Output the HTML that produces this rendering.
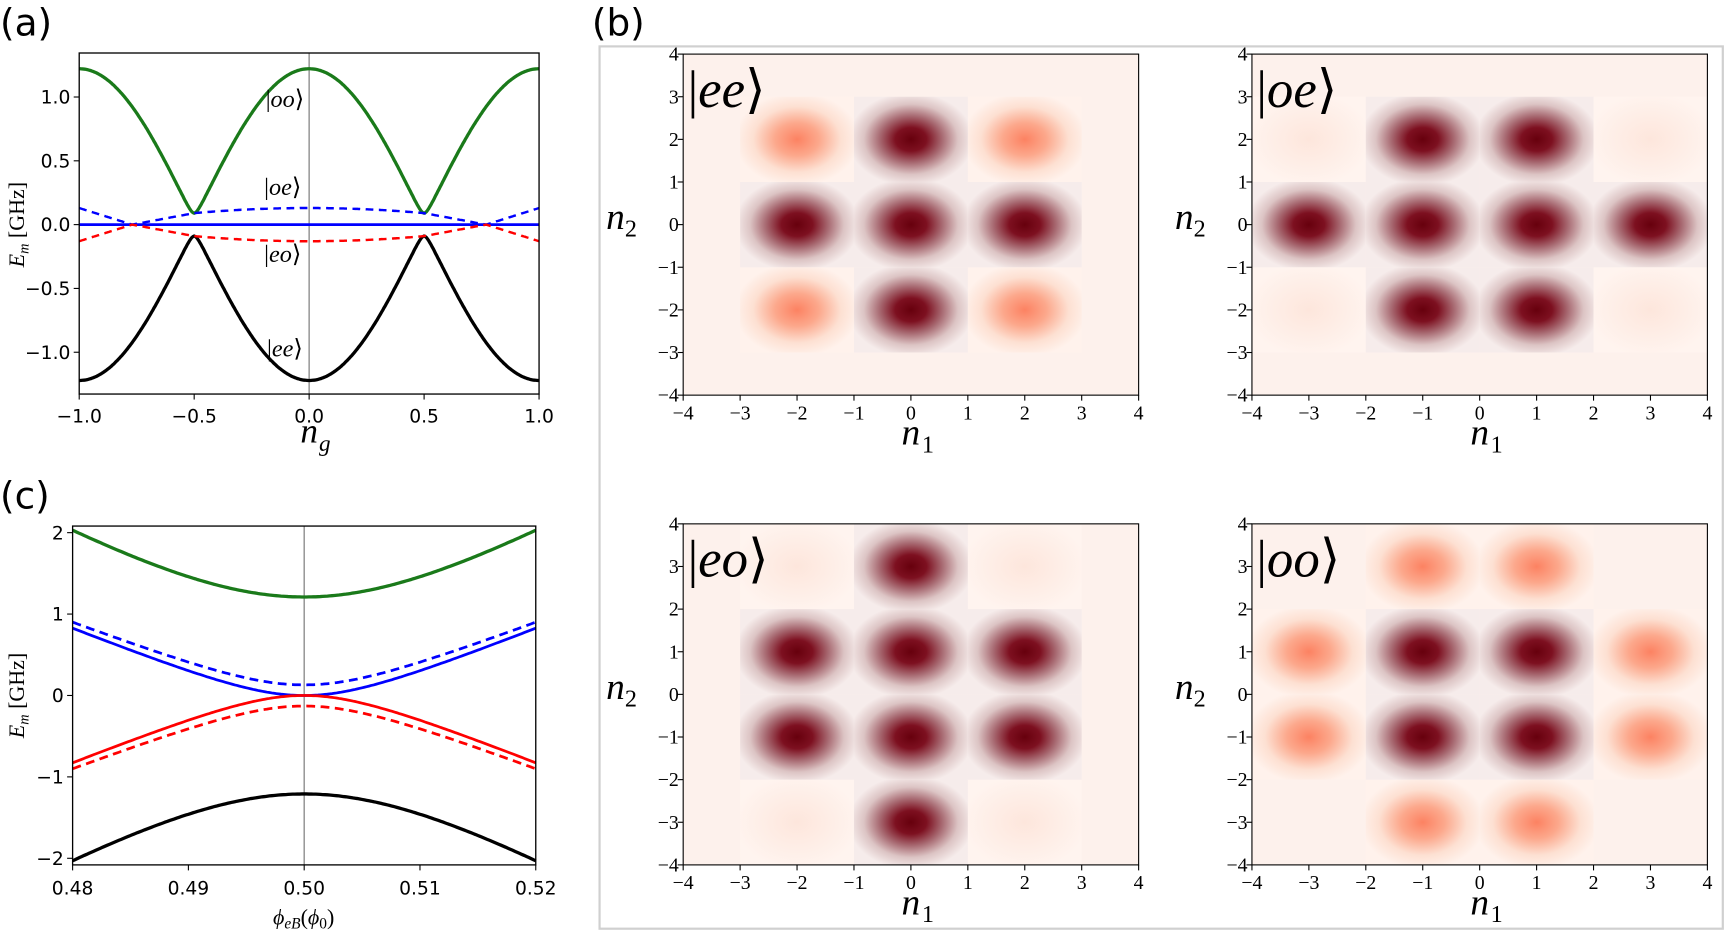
<!DOCTYPE html>
<html><head><meta charset="utf-8"><style>
html,body{margin:0;padding:0;background:#fff;}
svg{display:block}
.sr{font-family:"Liberation Serif","DejaVu Serif",serif;}
.ss{font-family:"DejaVu Sans","Liberation Sans",sans-serif;}
</style></head><body>
<svg id="g" width="1725" height="930" viewBox="0 0 1568 845" xmlns="http://www.w3.org/2000/svg">
<defs>
<radialGradient id="dk" cx="50%" cy="50%" r="55%">
<stop offset="0" stop-color="#67000d"/><stop offset="0.25" stop-color="#7d1020"/>
<stop offset="0.5" stop-color="#a86a72"/><stop offset="0.75" stop-color="#dcc4c4"/>
<stop offset="1" stop-color="#f6eceb"/></radialGradient>
<radialGradient id="or" cx="50%" cy="50%" r="55%">
<stop offset="0" stop-color="#fc8262"/><stop offset="0.35" stop-color="#fca88c"/>
<stop offset="0.7" stop-color="#fde0d2"/><stop offset="1" stop-color="#fff2ec"/></radialGradient>
<radialGradient id="fa" cx="50%" cy="50%" r="55%">
<stop offset="0" stop-color="#fde6dc"/><stop offset="1" stop-color="#fff4ef"/></radialGradient>
</defs>
</svg>
<script>
const S=document.getElementById('g');const NS='http://www.w3.org/2000/svg';
function el(t,a,txt){const e=document.createElementNS(NS,t);for(const k in a)e.setAttribute(k,a[k]);if(txt!==undefined)e.textContent=txt;S.appendChild(e);return e;}
function path(pts,c,w,dash){el('path',{d:'M'+pts.map(p=>p[0].toFixed(1)+','+p[1].toFixed(1)).join('L'),fill:'none',stroke:c,'stroke-width':w,'stroke-dasharray':dash||'none'});}
function txt(x,y,s,sz,cls,anc,extra){const a=Object.assign({x:x,y:y,'font-size':sz,'class':cls=='s'?'ss':'sr','text-anchor':anc||'middle'},extra||{});return el('text',a,s);}
function rich(x,y,sz,html,anc,tr){const a={x:x,y:y,'font-size':sz,'class':'sr','text-anchor':anc||'middle'};if(tr)a.transform=tr;const e=el('text',a);e.innerHTML=html;return e;}
txt(0,32,'(a)',34,'s','start');txt(538,32,'(b)',34,'s','start');txt(0,462,'(c)',34,'s','start');
const EM='<tspan font-style="italic">E</tspan><tspan font-style="italic" font-size="13" dy="4">m</tspan><tspan dy="-4"> [GHz]</tspan>';
// panel (a)
{const X=n=>72+(n+1)*209,Y=E=>204-E*116;
el('line',{x1:X(0),y1:48,x2:X(0),y2:358,stroke:'#888','stroke-width':1.2});
const g=[],k=[],b=[],r=[];
for(let i=0;i<=400;i++){const n=-1+i/200;const c=1.19*Math.cos(Math.PI*n);const E=Math.sqrt(c*c+0.0036)+0.03;g.push([X(n),Y(E)]);k.push([X(n),Y(-E)]);
const a=Math.abs(n);let v;if(a<=0.5)v=0.13-0.16*a*a;else if(a<0.77)v=0.09*(0.77-a)/0.27;else v=0.13*(a-0.77)/0.23;b.push([X(n),Y(v)]);r.push([X(n),Y(-v)]);}
path(g,'#1a7a1a',3);path(k,'#000',3);
path([[X(-1),Y(0)],[X(1),Y(0)]],'#0000ff',2.5);path(b,'#0000ff',2.2,'7 5');path(r,'#ff0000',2.2,'7 5');
el('rect',{x:72,y:48,width:418,height:310,fill:'none',stroke:'#000','stroke-width':1.2});
[-1,-0.5,0,0.5,1].forEach(n=>{el('line',{x1:X(n),y1:358,x2:X(n),y2:363,stroke:'#000'});txt(X(n),384,(n<0?'−':'')+Math.abs(n).toFixed(1),17,'s');});
[1,0.5,0,-0.5,-1].forEach(E=>{el('line',{x1:67,y1:Y(E),x2:72,y2:Y(E),stroke:'#000'});txt(64,Y(E)+6,(E<0?'−':'')+Math.abs(E).toFixed(1),17,'s','end');});
txt(281,402,'n',32,'r','middle',{'font-style':'italic'});txt(290,410,'g',21,'r','start',{'font-style':'italic'});
rich(0,0,20,EM,'middle','translate(22,204) rotate(-90)');
const st=(x,y,s)=>rich(x,y,22,'|<tspan font-style="italic">'+s+'</tspan>⟩');
st(259,97,'oo');st(257,177,'oe');st(257,238,'eo');st(259,324,'ee');}
// panel (c)
{const X=p=>66+(p-0.48)/0.04*421,Y=E=>632-E*74;
el('line',{x1:X(0.5),y1:478,x2:X(0.5),y2:786,stroke:'#888','stroke-width':1.2});
const g=[],k=[],b=[],bd=[],r=[],rd=[];
for(let i=0;i<=200;i++){const p=0.48+0.04*i/200,d=p-0.5;const G=Math.sqrt(1.21*1.21+Math.pow(81.5*d,2));g.push([X(p),Y(G)]);k.push([X(p),Y(-G)]);
const B=Math.sqrt(0.16+Math.pow(58*d,2))-0.4,Bd=0.13+Math.sqrt(0.16+Math.pow(55*d,2))-0.4;b.push([X(p),Y(B)]);r.push([X(p),Y(-B)]);bd.push([X(p),Y(Bd)]);rd.push([X(p),Y(-Bd)]);}
path(g,'#1a7a1a',3);path(k,'#000',3);
path(b,'#0000ff',2.5);path(bd,'#0000ff',2.5,'8 5');path(r,'#ff0000',2.5);path(rd,'#ff0000',2.5,'8 5');
el('rect',{x:66,y:478,width:421,height:308,fill:'none',stroke:'#000','stroke-width':1.2});
[0.48,0.49,0.5,0.51,0.52].forEach(p=>{el('line',{x1:X(p),y1:786,x2:X(p),y2:791,stroke:'#000'});txt(X(p),813,p.toFixed(2),17,'s');});
[2,1,0,-1,-2].forEach(E=>{el('line',{x1:61,y1:Y(E),x2:66,y2:Y(E),stroke:'#000'});txt(58,Y(E)+6,(E<0?'−':'')+Math.abs(E),17,'s','end');});
rich(276,840,20,'<tspan font-style="italic">ϕ</tspan><tspan font-style="italic" font-size="14" dy="4">eB</tspan><tspan dy="-4">(</tspan><tspan font-style="italic">ϕ</tspan><tspan font-size="14" dy="4">0</tspan><tspan dy="-4">)</tspan>');
rich(0,0,20,EM,'middle','translate(22,632) rotate(-90)');}
// panel (b)
el('rect',{x:545,y:42,width:1021,height:802,fill:'none',stroke:'#d0d0d0','stroke-width':2});
function heat(x0,y0,lab,dk,orr,fa){const w=414,h=310,X=n=>x0+(n+4)*w/8,Y=n=>y0+(4-n)*h/8;
el('rect',{x:x0,y:y0,width:w,height:h,fill:'#fdf1ec'});
const tile=(c,g)=>c.forEach(([a,b])=>el('rect',{x:X(a-1),y:Y(b+1),width:w/4,height:h/4,fill:'url(#'+g+')'}));
tile(fa,'fa');tile(orr,'or');tile(dk,'dk');
el('rect',{x:x0,y:y0,width:w,height:h,fill:'none',stroke:'#000','stroke-width':1});
for(let n=-4;n<=4;n++){el('line',{x1:X(n),y1:y0+h,x2:X(n),y2:y0+h+5,stroke:'#000'});txt(X(n),y0+h+22,(n<0?'−':'')+Math.abs(n),18,'r');
el('line',{x1:x0-5,y1:Y(n),x2:x0,y2:Y(n),stroke:'#000'});txt(x0-4,Y(n)+6,(n<0?'−':'')+Math.abs(n),18,'r','end');}
txt(X(0),y0+h+45,'n',34,'r','middle',{'font-style':'italic'});txt(X(0)+10,y0+h+52,'1',22,'r','start');
txt(x0-70,Y(0)+4,'n',34,'r','start',{'font-style':'italic'});txt(x0-53,Y(0)+11,'2',22,'r','start');
rich(x0+4,y0+48,48,'|<tspan font-style="italic">'+lab+'</tspan>⟩','start');}
heat(621,49,'ee',[[0,2],[-2,0],[0,0],[2,0],[0,-2]],[[-2,2],[2,2],[-2,-2],[2,-2]],[]);
heat(1138,49,'oe',[[-1,2],[1,2],[-3,0],[-1,0],[1,0],[3,0],[-1,-2],[1,-2]],[],[[-3,2],[3,2],[-3,-2],[3,-2]]);
heat(621,476,'eo',[[0,3],[-2,1],[0,1],[2,1],[-2,-1],[0,-1],[2,-1],[0,-3]],[],[[-2,3],[2,3],[-2,-3],[2,-3]]);
heat(1138,476,'oo',[[-1,1],[1,1],[-1,-1],[1,-1]],[[-1,3],[1,3],[-3,1],[3,1],[-3,-1],[3,-1],[-1,-3],[1,-3]],[]);
</script>
</body></html>
